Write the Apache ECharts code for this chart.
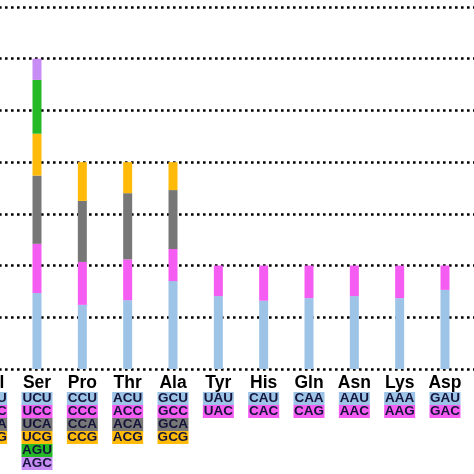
<!DOCTYPE html>
<html><head><meta charset="utf-8">
<script src="https://cdn.jsdelivr.net/npm/echarts@6/dist/echarts.min.js"></script>
<style>html,body{margin:0;padding:0;background:#fff;overflow:hidden;width:474px;height:474px}
#wrap{position:relative;width:474px;height:474px;overflow:hidden}
#c{position:absolute;left:-31.5px;top:0;width:544px;height:474px}</style>
</head><body><div id="wrap"><div id="c"></div></div>
<script>
const aminoAcids = ['Val','Ser','Pro','Thr','Ala','Tyr','His','Gln','Asn','Lys','Asp','Glu'];
const codons = [
  ['GUU','GUC','GUA','GUG'],
  ['UCU','UCC','UCA','UCG','AGU','AGC'],
  ['CCU','CCC','CCA','CCG'],
  ['ACU','ACC','ACA','ACG'],
  ['GCU','GCC','GCA','GCG'],
  ['UAU','UAC'],
  ['CAU','CAC'],
  ['CAA','CAG'],
  ['AAU','AAC'],
  ['AAA','AAG'],
  ['GAU','GAC'],
  ['GAA','GAG']
];
const codon1 = [null,1.47,1.24,1.33,1.70,1.41,1.32,1.37,1.41,1.37,1.53,null];
const codon2 = [null,0.95,0.83,0.79,0.62,0.59,0.68,0.63,0.59,0.63,0.47,null];
const codon3 = [null,1.32,1.18,1.28,1.14,null,null,null,null,null,null,null];
const codon4 = [null,0.81,0.75,0.60,0.54,null,null,null,null,null,null,null];
const codon5 = [null,1.04,null,null,null,null,null,null,null,null,null,null];
const codon6 = [null,0.41,null,null,null,null,null,null,null,null,null,null];
const yTicks = [0,1,2,3,4,5,6,7];

const colors = ['#9DC3E6','#F55CF2','#777777','#FFBA0A','#25B925','#C88CF5'];
const seriesData = [codon1,codon2,codon3,codon4,codon5,codon6];

const rich = {
  nm: {fontSize:17.5, fontWeight:'bold', color:'#000', lineHeight:17, fontFamily:'Liberation Sans, Arial, sans-serif'}
};
colors.forEach((c,i)=>{
  rich['c'+i] = {backgroundColor:c, width:31, height:13, lineHeight:13, align:'center',
    fontSize:13.5, fontWeight:'bold', color:'#14143a', fontFamily:'Liberation Sans, Arial, sans-serif'};
});

const chart = echarts.init(document.getElementById('c'), null, {renderer:'canvas'});
chart.setOption({
  animation:false,
  backgroundColor:'#fff',
  grid:{left:0, right:0, top:7, bottom:105, containLabel:false},
  xAxis:{
    type:'category', data:aminoAcids,
    axisLine:{show:false}, axisTick:{show:false},
    axisLabel:{interval:0, margin:6, align:'center',
      formatter:(v)=>{
        const i = aminoAcids.indexOf(v);
        let s = '{nm|'+v+'}';
        codons[i].forEach((cd,k)=>{ s += '\n{c'+k+'|'+cd+'}'; });
        return s;
      }, rich:rich}
  },
  yAxis:{
    type:'value', min:yTicks[0], max:yTicks[yTicks.length-1], interval:1,
    axisLine:{show:false}, axisTick:{show:false}, axisLabel:{show:false},
    splitLine:{show:true, lineStyle:{color:'#000', width:2.6, type:[2.6,3.4]}}
  },
  series: seriesData.map((d,i)=>({
    type:'bar', stack:'rscu', data:d, barWidth:9,
    itemStyle:{color:colors[i]}, z:3
  }))
});
</script></body></html>
